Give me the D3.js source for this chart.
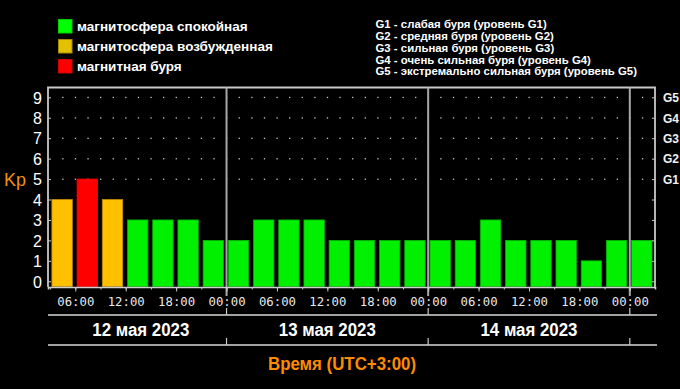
<!DOCTYPE html>
<html><head><meta charset="utf-8">
<script src="https://cdn.jsdelivr.net/npm/d3@7"></script>
<style>
html,body{margin:0;padding:0;background:#000;}
svg{display:block;}
</style></head>
<body>
<script>
// ---- data ----
const startHour = 3;          // first interval starts 12 May 03:00 (UTC+3)
const intervalHours = 3;
const kp = [4,5,4,3,3,3,2,2, 3,3,3,2,2,2,2,2, 2,3,2,2,2,1,2,2];
const tickHours = [6,12,18,24,30,36,42,48,54,60,66,72];
const tickLabels = ["06:00","12:00","18:00","00:00","06:00","12:00","18:00","00:00","06:00","12:00","18:00","00:00"];
const dayLabels = ["12 мая 2023","13 мая 2023","14 мая 2023"];
const dayStarts = [0,24,48];
const kpLevels = [0,1,2,3,4,5,6,7,8,9];
const gLevels = [5,6,7,8,9];
const gLabels = ["G1","G2","G3","G4","G5"];
const gLegend = ["G1 - слабая буря (уровень G1)","G2 - средняя буря (уровень G2)","G3 - сильная буря (уровень G3)","G4 - очень сильная буря (уровень G4)","G5 - экстремально сильная буря (уровень G5)"];
const legendLabels = ["магнитосфера спокойная","магнитосфера возбужденная","магнитная буря"];
const legendColors = ["#00ff00","#e2c200","#ff0000"];
const axisTitle = "Время (UTC+3:00)";
const yTitle = "Kp";

const W = 680, H = 389;
const L = 48, R = 655, T = 87.5, B = 287;
const svg = d3.select("body").append("svg").attr("width",W).attr("height",H);
svg.append("rect").attr("width",W).attr("height",H).attr("fill","#000");

const x = d3.scaleLinear().domain([2.75, 75]).range([L, R]);
const y = d3.scaleLinear().domain([-0.28, 9.48]).range([B, T]);

function fill(v){ return v>=5 ? "#ff0000" : (v>=4 ? "#ffc000" : "#00f000"); }
function stroke(v){ return v>=5 ? "#ff0000" : (v>=4 ? "#c08c00" : "#00b000"); }

// dotted grid rows for G levels
const dotTimes = d3.range(4.5, 74.6, 1.5);
gLevels.forEach(lv=>{
  svg.append("g").selectAll("rect").data(dotTimes).join("rect")
    .attr("x",d=>x(d)-0.5).attr("y",y(lv)-0.5).attr("width",1.3).attr("height",1.3)
    .attr("fill","#c8c8c8");
});

// bars
svg.append("g").selectAll("rect").data(kp).join("rect")
  .attr("x",(d,i)=>x(startHour+i*intervalHours)+1.8)
  .attr("width",(d,i)=>x(startHour+(i+1)*intervalHours)-x(startHour+i*intervalHours)-4.8)
  .attr("y",d=>y(d))
  .attr("height",d=>B-0.5-y(d))
  .attr("fill",d=>fill(d))
  .attr("stroke",d=>stroke(d)).attr("stroke-width",0.8);

// frame
svg.append("path")
  .attr("d",`M${L},${B}V${T}H${R}V${B}`)
  .attr("fill","none").attr("stroke","#c8c8c8").attr("stroke-width",1.8);

// day separators
svg.append("g").selectAll("line").data([24,48,72]).join("line")
  .attr("x1",d=>x(d)).attr("x2",d=>x(d)).attr("y1",T).attr("y2",B+9)
  .attr("stroke","#a8a8a8").attr("stroke-width",2);

// left y axis
const yAxisL = svg.append("g").attr("transform",`translate(${L},0)`)
  .call(d3.axisLeft(y).tickValues(kpLevels).tickSize(-3).tickPadding(6).tickFormat(d3.format("d")));
yAxisL.select(".domain").remove();
yAxisL.selectAll("line").attr("stroke","#c8c8c8");
yAxisL.selectAll("text").attr("fill","#ffffff").attr("font-family","Liberation Sans, Arial, sans-serif")
  .attr("font-size",16).attr("dy","0.36em");

// right y axis
const gMap = new Map(gLevels.map((l,i)=>[l,gLabels[i]]));
const yAxisR = svg.append("g").attr("transform",`translate(${R},0)`)
  .call(d3.axisRight(y).tickValues(kpLevels).tickSize(-3).tickPadding(8).tickFormat(d=>gMap.get(d)||""));
yAxisR.select(".domain").remove();
yAxisR.selectAll("line").attr("stroke","#c8c8c8");
yAxisR.selectAll("text").attr("fill","#f0f0f0").attr("font-family","Liberation Sans, Arial, sans-serif")
  .attr("font-weight","bold").attr("font-size",12).attr("dy","0.36em");

// Kp title
svg.append("text").text(yTitle).attr("x",4).attr("y",y(5)).attr("dy","0.36em")
  .attr("fill","#f09010").attr("font-family","Liberation Sans, Arial, sans-serif").attr("font-size",18);

// x axis: minor ticks every 3h
const minor = svg.append("g").attr("transform",`translate(0,${B})`)
  .call(d3.axisBottom(x).tickValues(d3.range(3,75,3)).tickSize(2.5).tickFormat(""));
minor.select(".domain").attr("stroke","#d0d0d0").attr("stroke-width",1.6);
minor.selectAll("line").attr("stroke","#c8c8c8");

const tlMap = new Map(tickHours.map((h,i)=>[h,tickLabels[i]]));
const xAxis = svg.append("g").attr("transform",`translate(0,${B})`)
  .call(d3.axisBottom(x).tickValues(tickHours).tickSize(4.5).tickPadding(6).tickFormat(d=>tlMap.get(d)));
xAxis.select(".domain").remove();
xAxis.selectAll("line").attr("stroke","#c8c8c8");
xAxis.selectAll("text").attr("fill","#e8e8e8").attr("font-family","DejaVu Sans Mono, Liberation Mono, monospace")
  .attr("font-size",12.3);

// date band
const bandX1 = L, bandX2 = R + 2;
[315, 345].forEach(yy=>{
  svg.append("line").attr("x1",bandX1).attr("x2",bandX2).attr("y1",yy).attr("y2",yy)
    .attr("stroke","#d8d8d8").attr("stroke-width",1.6);
  svg.append("g").selectAll("line").data([24,48,72]).join("line")
    .attr("x1",d=>x(d)).attr("x2",d=>x(d)).attr("y1",yy-7).attr("y2",yy)
    .attr("stroke","#c8c8c8").attr("stroke-width",1.2);
});
svg.append("g").selectAll("text").data(dayLabels).join("text")
  .text(d=>d)
  .attr("x",(d,i)=>i===0 ? (x(dayStarts[i]+3.6)+x(24))/2 : x(dayStarts[i]+12))
  .attr("y",330).attr("dy","0.36em").attr("text-anchor","middle")
  .attr("fill","#ffffff").attr("font-family","Liberation Sans Narrow, Liberation Sans, Arial, sans-serif")
  .attr("font-weight","bold").attr("font-size",17.5).attr("textLength",97).attr("lengthAdjust","spacingAndGlyphs");

svg.append("text").text(axisTitle).attr("x",342).attr("y",363.5).attr("dy","0.36em")
  .attr("text-anchor","middle").attr("fill","#ff8c00")
  .attr("font-family","Liberation Sans Narrow, Liberation Sans, Arial, sans-serif")
  .attr("font-weight","bold").attr("font-size",17.5).attr("textLength",148).attr("lengthAdjust","spacingAndGlyphs");

// legend left
const lg = svg.append("g");
legendLabels.forEach((t,i)=>{
  const yy = 19.5 + i*20;
  lg.append("rect").attr("x",58.5).attr("y",yy).attr("width",13.5).attr("height",13.5)
    .attr("fill",legendColors[i]).attr("stroke",i===1?"#a88a00":d3.color(legendColors[i]).darker(0.6)).attr("stroke-width",1);
  lg.append("text").text(t).attr("x",77).attr("y",yy+7).attr("dy","0.36em")
    .attr("fill","#ffffff").attr("font-family","Liberation Sans, Arial, sans-serif")
    .attr("font-weight","bold").attr("font-size",13.5);
});

// legend right (G levels)
svg.append("g").selectAll("text").data(gLegend).join("text")
  .text(d=>d).attr("x",375.5).attr("y",(d,i)=>24.3+i*11.7).attr("dy","0.36em")
  .attr("fill","#ffffff").attr("font-family","Liberation Sans, Arial, sans-serif")
  .attr("font-weight","bold").attr("font-size",11.4);
</script>
</body></html>
